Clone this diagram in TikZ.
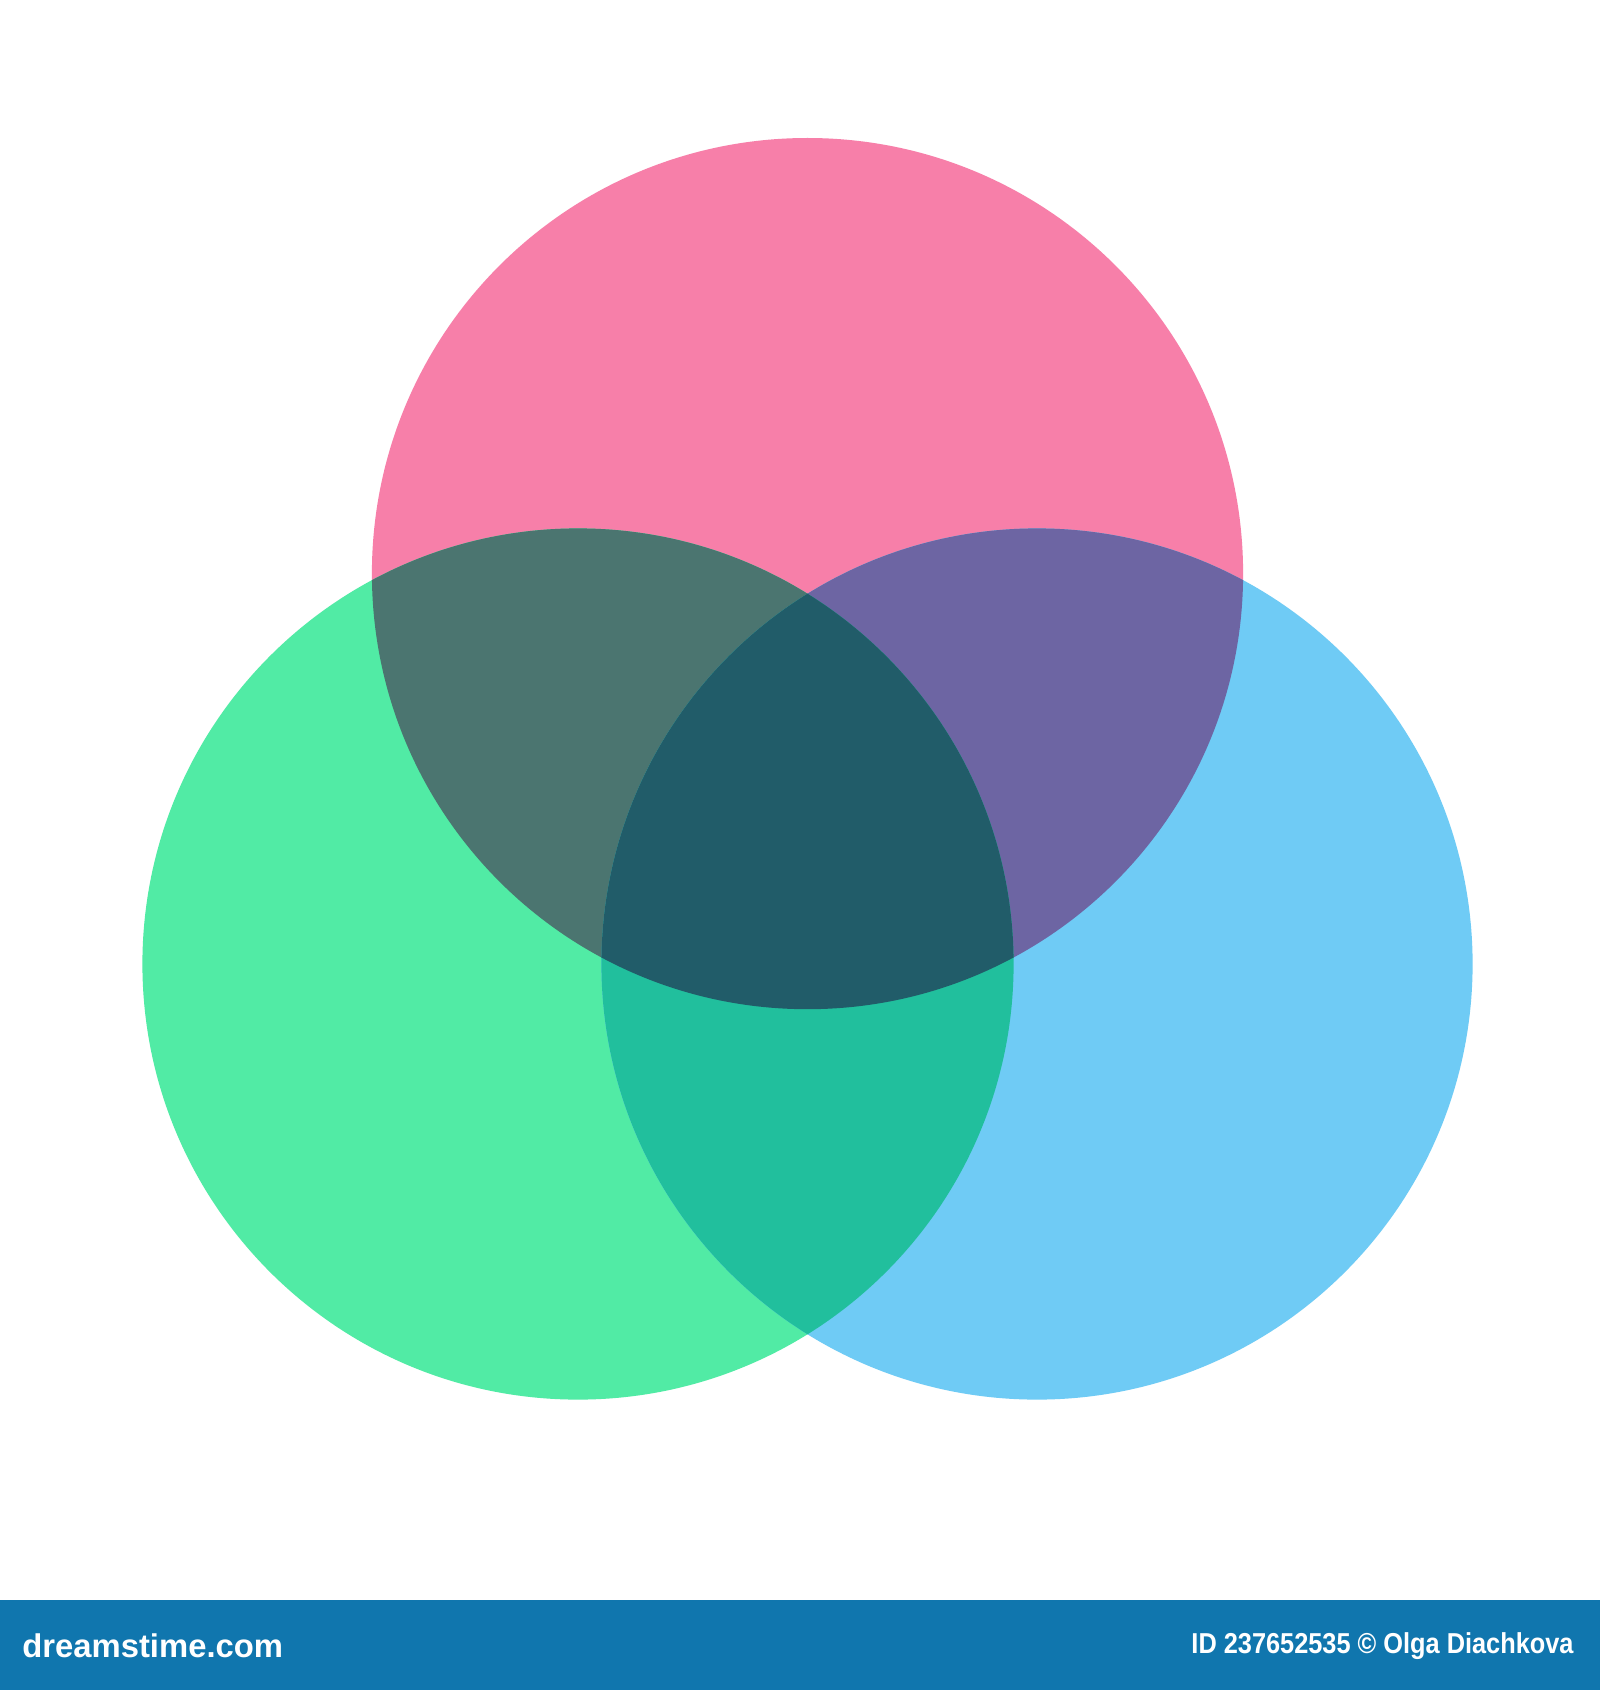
\documentclass[tikz,border=0pt]{standalone}
\usepackage{fontspec}
\setmainfont{Liberation Sans}
\definecolor{pinkc}{HTML}{F77FA9}
\definecolor{greenc}{HTML}{51EBA5}
\definecolor{bluec}{HTML}{6FCBF5}
\definecolor{pgc}{HTML}{4B7570}
\definecolor{pbc}{HTML}{6D65A3}
\definecolor{gbc}{HTML}{21BF9D}
\definecolor{allc}{HTML}{215C69}
\definecolor{barc}{HTML}{1076AE}
\tikzset{
  disc/.style={radius=435.6},
  bartext/.style={text=white, inner sep=0pt}
}
\begin{document}
\begin{tikzpicture}[x=0.5pt,y=-0.5pt]
\path[use as bounding box, fill=white] (0,0) rectangle (1600,1690);
\coordinate (P) at (807.5,573.6);
\coordinate (G) at (578,964);
\coordinate (B) at (1037,964);
% single circles
\fill[pinkc] (P) circle[disc];
\fill[greenc] (G) circle[disc];
\fill[bluec] (B) circle[disc];
% pairwise overlaps
\begin{scope}
  \clip (P) circle[disc];
  \fill[pgc] (G) circle[disc];
  \fill[pbc] (B) circle[disc];
\end{scope}
\begin{scope}
  \clip (G) circle[disc];
  \fill[gbc] (B) circle[disc];
\end{scope}
% triple overlap
\begin{scope}
  \clip (P) circle[disc];
  \clip (G) circle[disc];
  \fill[allc] (B) circle[disc];
\end{scope}
% bottom bar
\fill[barc] (0,1600) rectangle (1600,1690);
\node[bartext, anchor=west, font=\bfseries\fontsize{16.4}{20}\selectfont] (brand) at (22,1646) {dreamstime.com};
\node[bartext, anchor=east, font=\bfseries\fontsize{14.4}{16}\selectfont] (credit) at (1574,1646) {\scalebox{0.88}[1]{ID 237652535 © Olga Diachkova}};
\end{tikzpicture}
\end{document}
